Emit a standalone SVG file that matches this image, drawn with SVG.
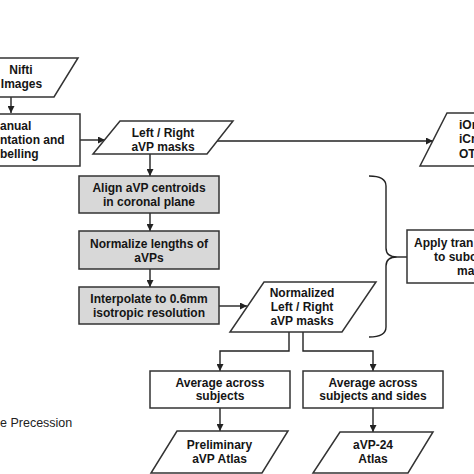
<svg xmlns="http://www.w3.org/2000/svg" width="474" height="474" viewBox="0 0 474 474">
<defs>
<marker id="ah" viewBox="0 0 10 10" refX="10" refY="5" markerWidth="7" markerHeight="7" markerUnits="userSpaceOnUse" orient="auto">
<path d="M0,0 L10,5 L0,10 z" fill="#222"/>
</marker>
<style>
.box{fill:#fff;stroke:#333;stroke-width:1.5}
.gbox{fill:#d8d8d8;stroke:#333;stroke-width:1.5}
.t{font-family:"Liberation Sans",Arial,sans-serif;font-weight:bold;font-size:12px;fill:#151515;text-anchor:middle}
.ts{font-family:"Liberation Sans",Arial,sans-serif;font-weight:bold;font-size:12px;fill:#151515;text-anchor:start}
.tn{font-family:"Liberation Sans",Arial,sans-serif;font-size:12.5px;fill:#222}
.c{fill:none;stroke:#222;stroke-width:1.4}
</style>
</defs>
<rect width="474" height="474" fill="#fff"/>

<g id="connectors">
<path class="c" d="M11,97 V113" marker-end="url(#ah)"/>
<path class="c" d="M80,140 H105" marker-end="url(#ah)"/>
<path class="c" d="M217,141 H433" marker-end="url(#ah)"/>
<path class="c" d="M150,154 V176" marker-end="url(#ah)"/>
<path class="c" d="M150,213 V231" marker-end="url(#ah)"/>
<path class="c" d="M150,269 V287" marker-end="url(#ah)"/>
<path class="c" d="M219,306 H247" marker-end="url(#ah)"/>
<path class="c" d="M289,332 V351 H220 V371" marker-end="url(#ah)"/>
<path class="c" d="M303,332 V351 H373 V371" marker-end="url(#ah)"/>
<path class="c" d="M220,408 V431" marker-end="url(#ah)"/>
<path class="c" d="M373,408 V432" marker-end="url(#ah)"/>
<path class="c" d="M369,176 Q386,176 386,186 V248 Q386,257 397,257 Q386,257 386,266 V327 Q386,337 369,337"/>
<path class="c" d="M397,257 H407"/>
</g>

<g id="nifti">
<polygon class="box" points="-60,58 78,58 54,97 -60,97"/>
<text class="t" x="21" y="74">Nifti</text>
<text class="t" x="21.5" y="88">Images</text>
</g>

<g id="manual">
<rect class="box" x="-60" y="114" width="140" height="52"/>
<text class="ts" x="0" y="130">anual</text>
<text class="ts" x="0" y="144">ntation and</text>
<text class="ts" x="0" y="158">belling</text>
</g>

<g id="lrmasks">
<polygon class="box" points="120,121 233,121 207,154 93,154"/>
<text class="t" x="163" y="136.5">Left / Right</text>
<text class="t" x="163" y="150.5">aVP masks</text>
</g>

<g id="iout">
<polygon class="box" points="447,113 490,113 490,166 420,166"/>
<text class="ts" x="459" y="128.5">iOr</text>
<text class="ts" x="459" y="143">iCr</text>
<text class="ts" x="459" y="157.5">OT</text>
</g>

<g id="align">
<rect class="gbox" x="79" y="176" width="140" height="37"/>
<text class="t" x="149" y="192">Align aVP centroids</text>
<text class="t" x="149" y="206">in coronal plane</text>
</g>

<g id="normalize">
<rect class="gbox" x="79" y="231" width="140" height="38"/>
<text class="t" x="149" y="247.5">Normalize lengths of</text>
<text class="t" x="149" y="261.5">aVPs</text>
</g>

<g id="interpolate">
<rect class="gbox" x="79" y="287" width="140" height="37"/>
<text class="t" x="149" y="303">Interpolate to 0.6mm</text>
<text class="t" x="149" y="317">isotropic resolution</text>
</g>

<g id="normalized">
<polygon class="box" points="264,282 376,282 342,332 230,332"/>
<text class="t" x="302" y="297">Normalized</text>
<text class="t" x="302" y="311">Left / Right</text>
<text class="t" x="302" y="325">aVP masks</text>
</g>

<g id="apply">
<rect class="box" x="407" y="230" width="100" height="53"/>
<text class="ts" x="414" y="246.5">Apply tran</text>
<text class="ts" x="434" y="260.5">to subc</text>
<text class="ts" x="457" y="274.5">ma</text>
</g>

<g id="avgsubj">
<rect class="box" x="150" y="371" width="140" height="37"/>
<text class="t" x="220" y="386.5">Average across</text>
<text class="t" x="220" y="400">subjects</text>
</g>

<g id="avgsides">
<rect class="box" x="303" y="371" width="140" height="37"/>
<text class="t" x="373" y="386.5">Average across</text>
<text class="t" x="373" y="400">subjects and sides</text>
</g>

<g id="prelim">
<polygon class="box" points="177,431 288,431 262,473 151,473"/>
<text class="t" x="219.5" y="449">Preliminary</text>
<text class="t" x="219.5" y="463">aVP Atlas</text>
</g>

<g id="avp24">
<polygon class="box" points="340,432 433,432 408,473 313,473"/>
<text class="t" x="373" y="449">aVP-24</text>
<text class="t" x="373" y="463">Atlas</text>
</g>

<g id="legend">
<text class="tn" x="0" y="427">e Precession</text>
</g>
</svg>
